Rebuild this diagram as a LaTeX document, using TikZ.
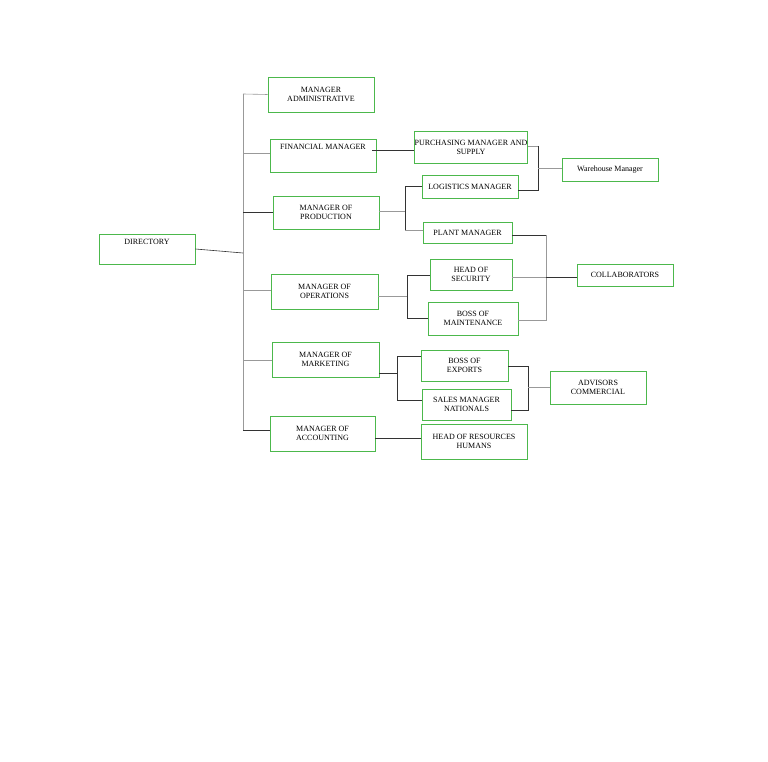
\documentclass[tikz,border=0pt]{standalone}
\usepackage{fontspec}
\setmainfont{Liberation Serif}
\begin{document}
\begin{tikzpicture}[x=1pt,y=-1pt,
 bx/.style={draw=green!60!black!70!white,line width=0.8pt,inner sep=0pt,font=\fontsize{8}{9}\selectfont,align=center},
 ln/.style={draw=black!80,line width=0.6pt},
 gl/.style={draw=black!40,line width=0.6pt}]
\useasboundingbox (0,0) rectangle (768,762);
\newcommand{\bxat}[6]{\node[bx,minimum width=#4-#3,minimum height=#6-#5] (#1) at ({(#3+#4)/2},{(#5+#6)/2}) {#2};}
\bxat{dir}{DIRECTORY\\[6pt]}{99}{195}{234}{264}
\bxat{adm}{MANAGER\\ADMINISTRATIVE}{268}{374}{77}{112}
\bxat{fin}{FINANCIAL MANAGER\\[8pt]}{270}{376}{139}{172}
\bxat{pro}{MANAGER OF\\PRODUCTION}{273}{379}{196}{229}
\bxat{ope}{MANAGER OF\\OPERATIONS}{271}{378}{274}{309}
\bxat{mar}{MANAGER OF\\MARKETING}{272}{379}{342}{377}
\bxat{acc}{MANAGER OF\\ACCOUNTING}{270}{375}{416}{451}
\bxat{pur}{PURCHASING MANAGER AND\\SUPPLY\hspace{50pt}}{421}{521}{131}{163}
\bxat{log}{LOGISTICS MANAGER}{422}{518}{175}{198}
\bxat{pla}{PLANT MANAGER}{423}{512}{222}{243}
\bxat{sec}{HEAD OF\\SECURITY}{430}{512}{259}{290}
\bxat{mai}{BOSS OF\\MAINTENANCE}{428}{518}{302}{335}
\bxat{exp}{BOSS OF\\EXPORTS\hspace{20pt}}{421}{508}{350}{381}
\bxat{sal}{SALES MANAGER\\NATIONALS}{422}{511}{389}{420}
\bxat{hr}{HEAD OF RESOURCES\\HUMANS}{421}{527}{424}{459}
\bxat{war}{Warehouse Manager}{562}{658}{158}{181}
\bxat{col}{COLLABORATORS}{577}{673}{264}{286}
\bxat{adv}{ADVISORS\\COMMERCIAL}{550}{646}{371}{404}
% trunk
\coordinate (t1) at (243,94); \coordinate (t2) at (243,430);
\draw[gl] (t1) -- (t2);
\draw[ln] (dir.east) -- (243,253);
\draw[gl] (243,94) -- (adm.west);
\draw[gl] (243,153) -- (fin.west |- 0,153);
\draw[ln] (243,212) -- (pro.west |- 0,212);
\draw[gl] (243,290) -- (ope.west |- 0,290);
\draw[gl] (243,360) -- (mar.west |- 0,360);
\draw[ln] (243,430) -- (acc.west |- 0,430);
% financial
\draw[ln] (372,150) -- (pur.west |- 0,150);
% production
\draw[gl] (pro.east |- 0,211) -- (405,211);
\draw[ln] (log.west |- 0,186) -- (405,186) -- (405,230);
\draw[gl] (405,230) -- (pla.west |- 0,230);
% purchasing/logistics -> warehouse
\draw[gl] (pur.east |- 0,146) -- (538,146);
\draw[ln] (538,146) -- (538,190) -- (log.east |- 0,190);
\draw[gl] (538,168) -- (war.west |- 0,168);
% collaborators
\draw[ln] (pla.east |- 0,235) -- (546,235);
\draw[gl] (546,235) -- (546,320) -- (mai.east |- 0,320);
\draw[gl] (sec.east |- 0,277) -- (546,277);
\draw[ln] (546,277) -- (col.west |- 0,277);
% operations
\draw[gl] (ope.east |- 0,296) -- (407,296);
\draw[ln] (sec.west |- 0,275) -- (407,275) -- (407,318) -- (mai.west |- 0,318);
% marketing
\draw[ln] (mar.east |- 0,373) -- (397,373);
\draw[ln] (exp.west |- 0,356) -- (397,356) -- (397,400) -- (sal.west |- 0,400);
% advisors
\draw[ln] (exp.east |- 0,366) -- (528,366) -- (528,410) -- (sal.east |- 0,410);
\draw[gl] (528,387) -- (adv.west |- 0,387);
% accounting
\draw[ln] (acc.east |- 0,438) -- (hr.west |- 0,438);
\end{tikzpicture}
\end{document}
